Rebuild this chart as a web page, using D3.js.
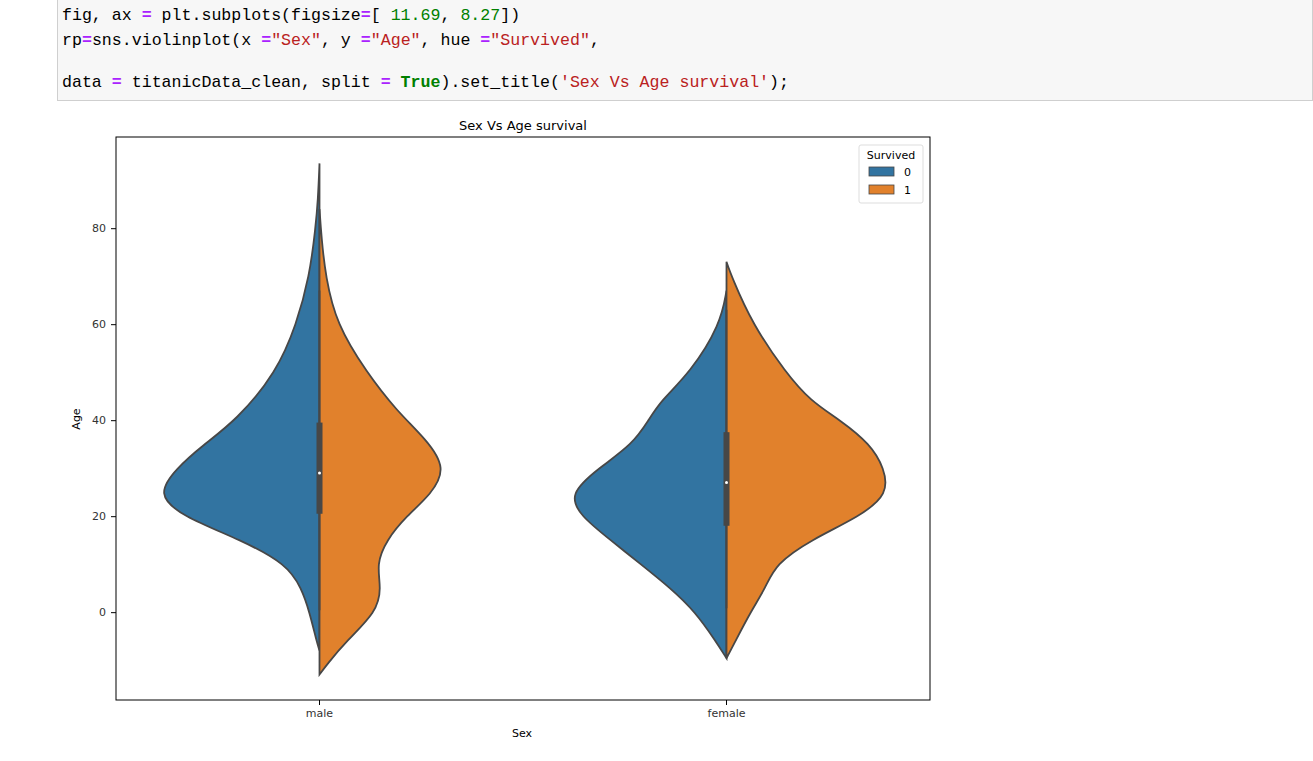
<!DOCTYPE html>
<html>
<head>
<meta charset="utf-8">
<script src="https://cdn.jsdelivr.net/npm/d3@7"></script>
<style>
  body { margin: 0; background: #fff; }
  .cell { position: absolute; left: 57px; top: -2px; width: 1256px; height: 103px;
          background: #f7f7f7; border: 1px solid #cfcfcf; box-sizing: border-box; }
  .code { position: absolute; left: 62px; font-family: "Liberation Mono", monospace;
          font-size: 16.6px; color: #000; white-space: pre; }
  .op { color: #aa22ff; font-weight: bold; }
  .num { color: #008000; }
  .str { color: #ba2121; }
  .kw { color: #008000; font-weight: bold; }
  svg { position: absolute; left: 0; top: 0; }
</style>
</head>
<body>
<div class="cell"></div>
<div class="code" style="top:6px">fig, ax <span class="op">=</span> plt.subplots(figsize<span class="op">=</span>[ <span class="num">11.69</span>, <span class="num">8.27</span>])</div>
<div class="code" style="top:31px">rp<span class="op">=</span>sns.violinplot(x <span class="op">=</span><span class="str">"Sex"</span>, y <span class="op">=</span><span class="str">"Age"</span>, hue <span class="op">=</span><span class="str">"Survived"</span>,</div>
<div class="code" style="top:73px">data <span class="op">=</span> titanicData_clean, split <span class="op">=</span> <span class="kw">True</span>).set_title(<span class="str">'Sex Vs Age survival'</span>);</div>
<svg id="chart" width="1313" height="761"></svg>
<script>
const categories = ['male', 'female'];
const hues = ['0', '1'];
const colors = ['#3274a1', '#e1812c'];
const yTicks = [0, 20, 40, 60, 80];

// relative kernel density (half-width) at sampled ages
const maleDiedAges = [-8, -6, 0, 5, 10, 15, 20, 24.6, 30, 34.6, 40, 50, 60, 70, 80, 86, 93.5];
const maleDiedDens = [0, 3, 10, 18, 33, 78, 138, 163, 143, 118, 83, 43, 23, 10, 4, 1.5, 0];
const maleSurvAges = [-13, -11, -6, 0, 5, 10, 15, 20, 24.6, 30, 36, 42, 50, 60, 70, 78, 84];
const maleSurvDens = [0, 7, 27, 57, 62, 57, 67, 87, 112, 127, 107, 77, 47, 17, 6, 2, 0];
const femDiedAges = [-9.6, -6, 0, 5, 10, 15, 20, 24.6, 30, 35, 40, 44, 50, 60, 67];
const femDiedDens = [0, 11, 31, 56, 86, 116, 146, 158, 128, 94, 78, 66, 36, 6, 0];
const femSurvAges = [-9.6, -6, 0, 5, 10, 15, 20, 24.6, 30, 35, 40, 44, 50, 60, 70, 73];
const femSurvDens = [0, 9, 24, 39, 49, 84, 134, 162, 158, 144, 114, 84, 59, 26, 5, 0];

// quartiles, median and whisker ends per category
const q1 = [20.5, 18];
const q3 = [39.5, 37.5];
const medians = [29, 27];
const whiskLo = [0.4, 0.8];
const whiskHi = [67, 63];

const margin = { left: 116, right: 930, top: 137, bottom: 700 };
const svg = d3.select('#chart');

const x = d3.scaleBand().domain(categories).range([margin.left, margin.right]);
const y = d3.scaleLinear().domain([-18.3, 99]).range([margin.bottom, margin.top]);
const w = d3.scaleLinear().domain([0, 163]).range([0, x.bandwidth() * 0.4]);

const halves = [
  { cat: 'male', side: -1, hue: 0, ages: maleDiedAges, dens: maleDiedDens },
  { cat: 'male', side: 1, hue: 1, ages: maleSurvAges, dens: maleSurvDens },
  { cat: 'female', side: -1, hue: 0, ages: femDiedAges, dens: femDiedDens },
  { cat: 'female', side: 1, hue: 1, ages: femSurvAges, dens: femSurvDens }
];

const area = d3.area().curve(d3.curveBasis);
halves.forEach(h => {
  const cx = x(h.cat) + x.bandwidth() / 2;
  const pts = h.ages.map((a, i) => ({ a, d: h.dens[i] }));
  area.y(d => y(d.a)).x0(cx).x1(d => cx + h.side * w(d.d));
  svg.append('path')
    .attr('d', area(pts))
    .attr('fill', colors[h.hue])
    .attr('stroke', '#474747')
    .attr('stroke-width', 1.8);
});

// inner box
categories.forEach((c, i) => {
  const cx = x(c) + x.bandwidth() / 2;
  svg.append('line').attr('x1', cx).attr('x2', cx)
    .attr('y1', y(whiskLo[i])).attr('y2', y(whiskHi[i]))
    .attr('stroke', '#474747').attr('stroke-width', 1.8);
  svg.append('rect').attr('x', cx - 3).attr('width', 6)
    .attr('y', y(q3[i])).attr('height', y(q1[i]) - y(q3[i]))
    .attr('fill', '#474747');
  svg.append('circle').attr('cx', cx).attr('cy', y(medians[i]))
    .attr('r', 1.5).attr('fill', '#fff');
});

// axes frame
svg.append('rect')
  .attr('x', margin.left).attr('y', margin.top)
  .attr('width', margin.right - margin.left).attr('height', margin.bottom - margin.top)
  .attr('fill', 'none').attr('stroke', '#000').attr('stroke-width', 1);

const font = 'DejaVu Sans, sans-serif';
const yAxis = svg.append('g').attr('transform', `translate(${margin.left},0)`)
  .call(d3.axisLeft(y).tickValues(yTicks).tickSize(5).tickPadding(5));
yAxis.select('.domain').remove();
yAxis.selectAll('text').style('font-family', font).style('font-size', '11px').attr('fill', '#333');

const xAxis = svg.append('g').attr('transform', `translate(0,${margin.bottom})`)
  .call(d3.axisBottom(x).tickSize(5).tickPadding(4));
xAxis.select('.domain').remove();
xAxis.selectAll('text').style('font-family', font).style('font-size', '11px').attr('fill', '#333');

svg.append('text').attr('x', (margin.left + margin.right) / 2).attr('y', 130)
  .attr('text-anchor', 'middle').style('font-family', font).style('font-size', '13px')
  .text('Sex Vs Age survival');
svg.append('text').attr('x', 522).attr('y', 737)
  .attr('text-anchor', 'middle').style('font-family', font).style('font-size', '11px')
  .text('Sex');
svg.append('text').attr('transform', 'translate(80,419) rotate(-90)')
  .attr('text-anchor', 'middle').style('font-family', font).style('font-size', '11px')
  .text('Age');

// legend
const lg = svg.append('g').attr('transform', 'translate(859,145)');
lg.append('rect').attr('width', 64).attr('height', 58).attr('rx', 2)
  .attr('fill', '#fff').attr('stroke', '#ddd');
lg.append('text').attr('x', 32).attr('y', 14).attr('text-anchor', 'middle')
  .style('font-family', font).style('font-size', '11px').text('Survived');
hues.forEach((h, i) => {
  lg.append('rect').attr('x', 10).attr('y', 22 + i * 18).attr('width', 25).attr('height', 9)
    .attr('fill', colors[i]).attr('stroke', '#474747').attr('stroke-width', 0.8);
  lg.append('text').attr('x', 45).attr('y', 31 + i * 18)
    .style('font-family', font).style('font-size', '11px').text(h);
});
</script>
</body>
</html>
